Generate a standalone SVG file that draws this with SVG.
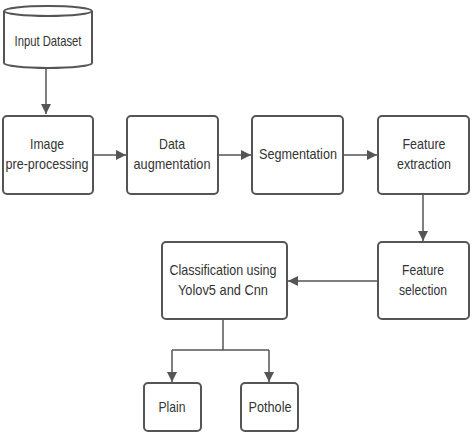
<svg xmlns="http://www.w3.org/2000/svg" width="474" height="436" viewBox="0 0 474 436">
<style>
.n{fill:#fff;stroke:#555;stroke-width:2}
.c{fill:none;stroke:#555;stroke-width:1.5}
text{font-family:"Liberation Sans",Arial,sans-serif;font-size:15px;fill:#333;text-anchor:middle}
</style>
<defs>
<marker id="a" viewBox="0 0 10 10" refX="10" refY="5" markerWidth="10" markerHeight="10" markerUnits="userSpaceOnUse" orient="auto">
<path d="M0,0 L10,5 L0,10 z" fill="#555"/>
</marker>
</defs>
<rect width="474" height="436" fill="#fff"/>
<g id="connectors">
<path class="c" d="M46,69 V114" marker-end="url(#a)"/>
<path class="c" d="M94,155 H126" marker-end="url(#a)"/>
<path class="c" d="M219,155 H251" marker-end="url(#a)"/>
<path class="c" d="M344,155 H377" marker-end="url(#a)"/>
<path class="c" d="M423,194 V241" marker-end="url(#a)"/>
<path class="c" d="M377,281 H288" marker-end="url(#a)"/>
<path class="c" d="M223,320 V350 M172,350 H269"/>
<path class="c" d="M172,350 V382" marker-end="url(#a)"/>
<path class="c" d="M269,350 V382" marker-end="url(#a)"/>
</g>
<g id="input">
<path class="n" d="M4,11 V63 A44,5 0 0 0 92,63 V11 A44,5 0 0 0 4,11 Z"/>
<path class="n" d="M4,11 A44,5 0 0 0 92,11" fill="none"/>
<text x="48" y="46" textLength="67" lengthAdjust="spacingAndGlyphs">Input Dataset</text>
</g>
<g id="image"><rect class="n" x="3" y="116" width="90" height="78" rx="4"/><text x="47" y="149" textLength="34" lengthAdjust="spacingAndGlyphs">Image</text><text x="47" y="169" textLength="83" lengthAdjust="spacingAndGlyphs">pre-processing</text></g>
<g id="augment"><rect class="n" x="127" y="116" width="91" height="78" rx="4"/><text x="172" y="149" textLength="26" lengthAdjust="spacingAndGlyphs">Data</text><text x="172" y="169" textLength="77" lengthAdjust="spacingAndGlyphs">augmentation</text></g>
<g id="segment"><rect class="n" x="252" y="116" width="91" height="78" rx="4"/><text x="298" y="159" textLength="78" lengthAdjust="spacingAndGlyphs">Segmentation</text></g>
<g id="extract"><rect class="n" x="378" y="116" width="91" height="78" rx="4"/><text x="424" y="149" textLength="43" lengthAdjust="spacingAndGlyphs">Feature</text><text x="424" y="169" textLength="54" lengthAdjust="spacingAndGlyphs">extraction</text></g>
<g id="select"><rect class="n" x="378" y="242" width="91" height="77" rx="4"/><text x="423" y="275" textLength="42" lengthAdjust="spacingAndGlyphs">Feature</text><text x="423" y="295" textLength="48" lengthAdjust="spacingAndGlyphs">selection</text></g>
<g id="classify"><rect class="n" x="162" y="242" width="125" height="77" rx="4"/><text x="223" y="275" textLength="107" lengthAdjust="spacingAndGlyphs">Classification using</text><text x="223" y="295" textLength="90" lengthAdjust="spacingAndGlyphs">Yolov5 and Cnn</text></g>
<g id="plain"><rect class="n" x="144" y="383" width="57" height="48" rx="4"/><text x="172" y="412" textLength="27" lengthAdjust="spacingAndGlyphs">Plain</text></g>
<g id="pothole"><rect class="n" x="241" y="383" width="57" height="48" rx="4"/><text x="270" y="412" textLength="43" lengthAdjust="spacingAndGlyphs">Pothole</text></g>
</svg>
